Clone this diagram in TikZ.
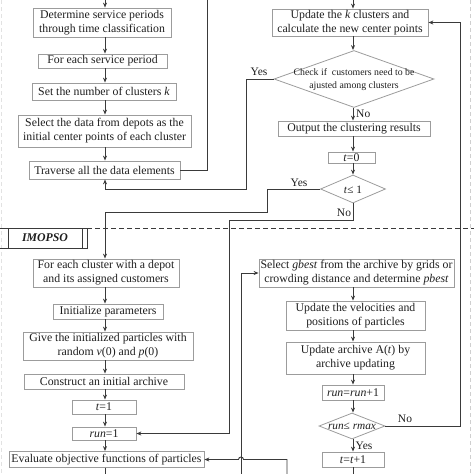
\documentclass[tikz,border=0pt]{standalone}
\usepackage{fontspec}
\setmainfont{Liberation Serif}
\usetikzlibrary{arrows.meta,shapes.geometric}
\definecolor{boxc}{HTML}{9C9C9C}
\definecolor{linec}{HTML}{3A3A3A}
\definecolor{txtc}{HTML}{1E1E1E}
\definecolor{framec}{HTML}{CFCFCF}
\begin{document}
\begin{tikzpicture}[x=1pt,y=-1pt,
  box/.style={draw=boxc,line width=0.8pt,rectangle,inner sep=1pt,align=center,text=txtc,
    font=\fontsize{11.8}{14}\selectfont},
  dia/.style={draw=boxc,line width=0.8pt,diamond,inner sep=0pt},
  dtext/.style={align=center,text=txtc,inner sep=0pt},
  conn/.style={draw=linec,line width=0.9pt},
  arr/.style={conn,-{Stealth[length=5pt,width=4pt]}},
  lab/.style={text=txtc,inner sep=0pt,font=\fontsize{11.5}{13}\selectfont},
]
\useasboundingbox (0,0) rectangle (474,474);
% frame
\draw[framec,line width=1pt,dash pattern=on 4pt off 3pt] (470,0) -- (470,474);
\draw[framec!60,line width=0.8pt,dash pattern=on 4pt off 3pt] (1,0) -- (1,474);
\draw[linec,line width=0.8pt,dash pattern=on 5pt off 3pt] (87,228) -- (474,228);
\draw[linec,line width=0.8pt] (-1,228) -- (87,228) -- (87,248) -- (-1,248);
\draw[linec,line width=0.8pt] (8,228) -- (8,248) (82,228) -- (82,248);
\node[text=txtc,font=\fontsize{11.8}{14}\selectfont\bfseries\itshape] (imo) at (45,238) {IMOPSO};

% column coordinates
\coordinate (colL) at (105,0);
\coordinate (colR) at (353,0);

% left column
\node[box,minimum width=138,minimum height=29] (det) at (102,22.5) {Determine service periods\\through time classification};
\node[box,minimum width=129,minimum height=14] (fesp) at (102.5,61) {For each service period};
\node[box,minimum width=144,minimum height=17] (setk) at (104,91.5) {Set the number of clusters \textit{k}};
\node[box,minimum width=173,minimum height=32] (seld) at (104.5,131) {Select the data from depots as the\\initial center points of each cluster};
\node[box,minimum width=151,minimum height=18] (trav) at (104.5,170) {Traverse all the data elements};

\node[box,minimum width=146,minimum height=28] (fecl) at (106,273) {For each cluster with a depot\\and its assigned customers};
\node[box,minimum width=110,minimum height=15] (init) at (108,311.5) {Initialize parameters};
\node[box,minimum width=170,minimum height=28] (give) at (108,346) {Give the initialized particles with\\random \textit{v}(0) and \textit{p}(0)};
\node[box,minimum width=160,minimum height=15] (cons) at (104,381.5) {Construct an initial archive};
\node[box,minimum width=64,minimum height=14] (t1) at (104,407) {\textit{t}=1};
\node[box,minimum width=64,minimum height=13] (run1) at (104,433.5) {\textit{run}=1};
\node[box,minimum width=195,minimum height=16] (eval) at (106.5,459.5) {Evaluate objective functions of particles};

% right column
\node[box,minimum width=156,minimum height=27] (upd) at (350,22.5) {Update the \textit{k} clusters and\\calculate the new center points};
\node[dia,minimum width=160,minimum height=57] (chk) at (354,79) {};
\node[dtext,font=\fontsize{9.8}{12.3}\selectfont] (chkT) at (354,79.5) {Check if\ \ customers need to be\\ajusted among clusters};
\node[box,minimum width=152,minimum height=15] (out) at (354,128.5) {Output the clustering results};
\node[box,minimum width=47,minimum height=11] (t0) at (351.5,157.5) {\textit{t}=0};
\node[dia,minimum width=65,minimum height=28] (tle) at (353,189) {};
\node[dtext,font=\fontsize{11.3}{13}\selectfont] (tleT) at (353,189.5) {\textit{t}≤ 1};

\node[box,minimum width=195,minimum height=28] (sel) at (356.5,273) {Select \textit{gbest} from the archive by grids or\\crowding distance and determine \textit{pbest}};
\node[box,minimum width=139,minimum height=29] (vel) at (355.5,315.5) {Update the velocities and\\positions of particles};
\node[box,minimum width=139,minimum height=32] (arch) at (355.5,358) {Update archive A(\textit{t}) by\\archive updating};
\node[box,minimum width=62,minimum height=15] (runp) at (353,392.5) {\textit{run}=\textit{run}+1};
\node[dia,minimum width=66,minimum height=26] (rle) at (352,426) {};
\node[dtext,font=\fontsize{11.3}{13}\selectfont] (rleT) at (352,426.5) {\textit{run}≤ \textit{rmax}};
\node[box,minimum width=62,minimum height=15] (tt) at (353,459.5) {\textit{t}=\textit{t}+1};

% off-picture ends
\coordinate (topL) at (105,-3);
\coordinate (topR) at (353,-3);
\coordinate (topT) at (207,-3);
\coordinate (botL) at (105,477);
\coordinate (botR) at (353,477);
\coordinate (botA) at (241,477);
\coordinate (botB) at (287,477);

% left column arrows
\draw[arr] (topL) -- (det.north -| colL);
\draw[arr] (det.south -| colL) -- (fesp.north -| colL);
\draw[arr] (fesp.south -| colL) -- (setk.north -| colL);
\draw[arr] (setk.south -| colL) -- (seld.north -| colL);
\draw[arr] (seld.south -| colL) -- (trav.north -| colL);
\draw[conn] (trav.east) -| (topT);

\draw[arr] (fecl.south -| colL) -- (init.north -| colL);
\draw[arr] (init.south -| colL) -- (give.north -| colL);
\draw[arr] (give.south -| colL) -- (cons.north -| colL);
\draw[arr] (cons.south -| colL) -- (t1.north -| colL);
\draw[arr] (t1.south -| colL) -- (run1.north -| colL);
\draw[arr] (run1.south -| colL) -- (eval.north -| colL);
\draw[conn] (eval.south -| colL) -- (botL);

% right column arrows
\draw[arr] (topR) -- (upd.north -| colR);
\draw[arr] (upd.south -| colR) -- (chk.north -| colR);
\draw[arr] (chk.south -| colR) -- (out.north -| colR);
\draw[arr] (out.south -| colR) -- (t0.north -| colR);
\draw[arr] (t0.south -| colR) -- (tle.north -| colR);

\draw[arr] (sel.south -| colR) -- (vel.north -| colR);
\draw[arr] (vel.south -| colR) -- (arch.north -| colR);
\draw[arr] (arch.south -| colR) -- (runp.north -| colR);
\draw[arr] (runp.south -| colR) -- (rle.north -| colR);
\draw[arr] (rle.south -| colR) -- (tt.north -| colR);
\draw[conn] (tt.south -| colR) -- (botR);

% loops
\coordinate (cy) at (246,189);
\draw[arr] (chk.west) -| (cy) -| (trav.south -| colL);
\coordinate (ty) at (267,212);
\draw[arr] (tle.west) -| (ty) -| (fecl.north -| colL);
\coordinate (tn) at (229,220);
\draw[arr] (tle.south) |- (tn) |- (run1.east);
\coordinate (rn) at (460,426);
\draw[arr] (rle.east) -- (rn) |- (upd.east);
\draw[arr] (botA) |- (sel.west);
\coordinate (hop) at (243.5,459.5);
\draw[arr] (botB) |- (hop) arc[start angle=0,end angle=-180,radius=2.5] -- (eval.east);

% labels
\node[lab] (l1) at (259,72) {Yes};
\node[lab,anchor=west] (l2) at (356,114) {No};
\node[lab] (l3) at (299,183) {Yes};
\node[lab] (l4) at (344,213) {No};
\node[lab] (l5) at (405,419) {No};
\node[lab,anchor=west] (l6) at (355.5,446) {Yes};
\end{tikzpicture}
\end{document}
